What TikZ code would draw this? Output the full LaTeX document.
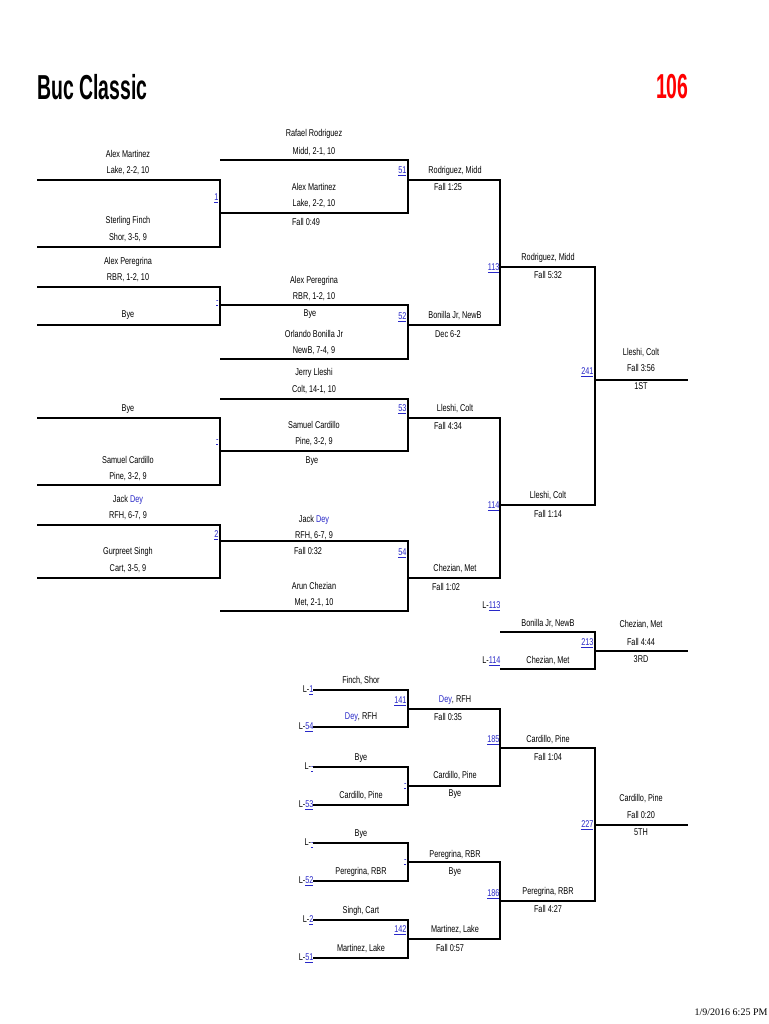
\documentclass[tikz,border=0pt]{standalone}
\usepackage{fontspec}
\setmainfont{Liberation Sans}[FakeStretch=0.74]
\newfontfamily\titlefont{Liberation Sans}[FakeStretch=0.56]
\newfontfamily\datefont{Liberation Serif}
\newcounter{nn}
\definecolor{lk}{RGB}{40,40,200}
\begin{document}
\begin{tikzpicture}[x=0.75pt,y=-0.75pt,line width=0.8pt,
  t/.style={font=\fontsize{7.4pt}{8pt}\selectfont,inner sep=0pt,anchor=center},
  lnk/.style={font=\fontsize{7.4pt}{8pt}\selectfont,inner sep=0pt,anchor=east,text=lk}]
\newcommand\T[3]{\stepcounter{nn}\node[t] (t\thenn) at (#1,#2) {#3};}
\newcommand\K[3]{\stepcounter{nn}\node[lnk] (k\thenn) at (#1,#2) {\underline{#3}};}
\newcommand\Lb[3]{\stepcounter{nn}\node[t,anchor=east] (l\thenn) at (#1,#2) {L-{\color{lk}\underline{#3}}};}
\newcommand\dey{{\color{lk}Dey}}
\useasboundingbox (0,0) rectangle (768,1024);
\fill[white] (0,0) rectangle (768,1024);
\node[anchor=west,inner sep=0pt,font=\titlefont\bfseries\fontsize{26pt}{26pt}\selectfont] (title) at (37,87) {Buc Classic};
\node[anchor=east,inner sep=0pt,text=red,font=\titlefont\bfseries\fontsize{26pt}{26pt}\selectfont] (wt) at (689,87) {106};
\node[anchor=east,inner sep=0pt,font=\datefont\fontsize{7.5pt}{8pt}\selectfont] (date) at (768,1012) {1/9/2016 6:25 PM};
% Round 1
\draw (37,180) -- (220,180) -- (220,247) -- (37,247);
\draw (37,287) -- (220,287) -- (220,325) -- (37,325);
\draw (37,418) -- (220,418) -- (220,485) -- (37,485);
\draw (37,525) -- (220,525) -- (220,578) -- (37,578);
\T{128}{154}{Alex Martinez}\T{128}{171}{Lake, 2-2, 10}
\T{128}{221}{Sterling Finch}\T{128}{238}{Shor, 3-5, 9}
\T{128}{262}{Alex Peregrina}\T{128}{278}{RBR, 1-2, 10}
\T{128}{315}{Bye}
\T{128}{409}{Bye}
\T{128}{460}{Samuel Cardillo}\T{128}{477}{Pine, 3-2, 9}
\T{128}{500}{Jack \dey}\T{128}{516}{RFH, 6-7, 9}
\T{128}{552}{Gurpreet Singh}\T{128}{569}{Cart, 3-5, 9}
\K{219}{198}{1}\K{219}{303}{-}\K{219}{442}{-}\K{219}{535}{2}
% Round 2
\draw (220,160) -- (408,160) -- (408,213) -- (220,213);
\draw (220,305) -- (408,305) -- (408,359) -- (220,359);
\draw (220,399) -- (408,399) -- (408,451) -- (220,451);
\draw (220,541) -- (408,541) -- (408,611) -- (220,611);
\T{314}{134}{Rafael Rodriguez}\T{314}{152}{Midd, 2-1, 10}
\T{314}{187}{Alex Martinez}\T{314}{204}{Lake, 2-2, 10}\T{306}{222}{Fall 0:49}
\T{314}{281}{Alex Peregrina}\T{314}{297}{RBR, 1-2, 10}\T{310}{314}{Bye}
\T{314}{334}{Orlando Bonilla Jr}\T{314}{351}{NewB, 7-4, 9}
\T{314}{373}{Jerry Lleshi}\T{314}{390}{Colt, 14-1, 10}
\T{314}{425}{Samuel Cardillo}\T{314}{442}{Pine, 3-2, 9}\T{312}{461}{Bye}
\T{314}{520}{Jack \dey}\T{314}{536}{RFH, 6-7, 9}\T{308}{551}{Fall 0:32}
\T{314}{586}{Arun Chezian}\T{314}{603}{Met, 2-1, 10}
\K{407}{171}{51}\K{407}{317}{52}\K{407}{409}{53}\K{407}{553}{54}
% Round 3
\draw (408,180) -- (500,180) -- (500,325) -- (408,325);
\draw (408,418) -- (500,418) -- (500,578) -- (408,578);
\T{455}{171}{Rodriguez, Midd}\T{448}{187}{Fall 1:25}
\T{455}{316}{Bonilla Jr, NewB}\T{448}{334}{Dec 6-2}
\T{455}{409}{Lleshi, Colt}\T{448}{426}{Fall 4:34}
\T{455}{569}{Chezian, Met}\T{446}{587}{Fall 1:02}
\K{500}{268}{113}\K{500}{506}{114}
% Round 4
\draw (500,267) -- (595,267) -- (595,505) -- (500,505);
\T{548}{258}{Rodriguez, Midd}\T{548}{275}{Fall 5:32}
\T{548}{496}{Lleshi, Colt}\T{548}{514}{Fall 1:14}
\K{594}{372}{241}
\draw (595,380) -- (688,380);
\T{641}{353}{Lleshi, Colt}\T{641}{368}{Fall 3:56}\T{641}{386}{1ST}
% 3rd place
\draw (500,632) -- (595,632) -- (595,669) -- (500,669);
\Lb{501}{606}{113}\Lb{501}{661}{114}
\T{548}{624}{Bonilla Jr, NewB}\T{548}{661}{Chezian, Met}
\K{594}{643}{213}
\draw (595,651) -- (688,651);
\T{641}{625}{Chezian, Met}\T{641}{642}{Fall 4:44}\T{641}{659}{3RD}
% Consolation
\draw (313,690) -- (408,690) -- (408,727) -- (313,727);
\draw (313,767) -- (408,767) -- (408,805) -- (313,805);
\draw (313,843) -- (408,843) -- (408,881) -- (313,881);
\draw (313,920) -- (408,920) -- (408,958) -- (313,958);
\Lb{314}{690}{1}\Lb{314}{727}{54}\Lb{314}{767}{-}\Lb{314}{805}{53}
\Lb{314}{843}{-}\Lb{314}{881}{52}\Lb{314}{920}{2}\Lb{314}{958}{51}
\T{361}{681}{Finch, Shor}\T{361}{717}{\dey, RFH}
\T{361}{758}{Bye}\T{361}{796}{Cardillo, Pine}
\T{361}{834}{Bye}\T{361}{872}{Peregrina, RBR}
\T{361}{911}{Singh, Cart}\T{361}{949}{Martinez, Lake}
\K{407}{701}{141}\K{407}{786}{-}\K{407}{862}{-}\K{407}{930}{142}
\draw (408,709) -- (500,709) -- (500,786) -- (408,786);
\draw (408,862) -- (500,862) -- (500,939) -- (408,939);
\T{455}{700}{\dey, RFH}\T{448}{717}{Fall 0:35}
\T{455}{776}{Cardillo, Pine}\T{455}{794}{Bye}
\T{455}{855}{Peregrina, RBR}\T{455}{872}{Bye}
\T{455}{930}{Martinez, Lake}\T{450}{948}{Fall 0:57}
\K{500}{740}{185}\K{500}{894}{186}
\draw (500,748) -- (595,748) -- (595,901) -- (500,901);
\T{548}{740}{Cardillo, Pine}\T{548}{757}{Fall 1:04}
\T{548}{892}{Peregrina, RBR}\T{548}{909}{Fall 4:27}
\K{594}{825}{227}
\draw (595,825) -- (688,825);
\T{641}{799}{Cardillo, Pine}\T{641}{815}{Fall 0:20}\T{641}{832}{5TH}
\end{tikzpicture}
\end{document}
